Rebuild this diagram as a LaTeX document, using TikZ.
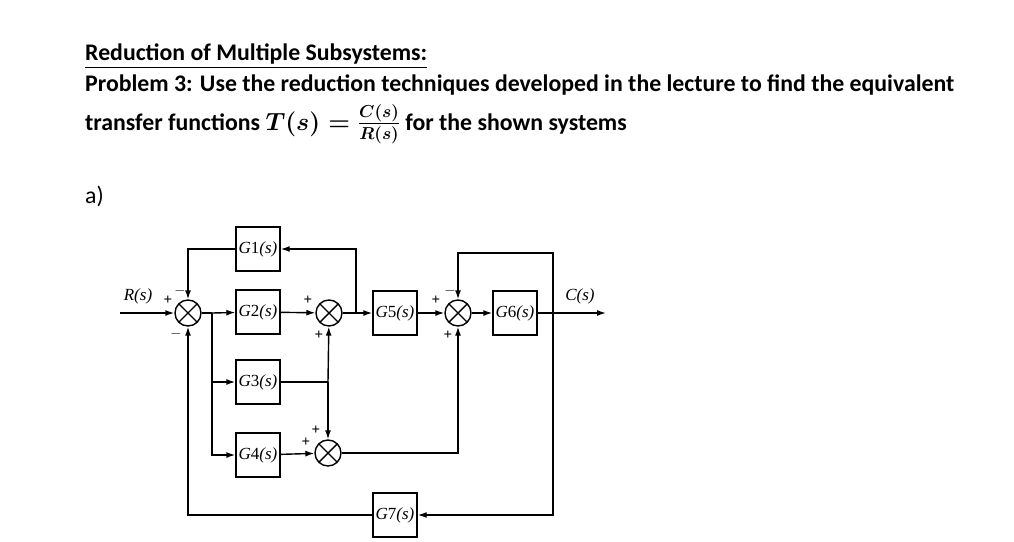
\documentclass[tikz,border=0pt]{standalone}
\usepackage{amsmath}
\usepackage{fontspec}
\setmainfont{Carlito}
\newfontfamily\tms{Liberation Serif}
\usetikzlibrary{arrows.meta}
\begin{document}
\begin{tikzpicture}[x=1pt,y=-1pt,
 blk/.style={draw,line width=1.4pt,minimum width=44pt,minimum height=44pt,inner sep=0pt,font=\tms\itshape\fontsize{17}{17}\selectfont},
 sum/.style={draw,circle,line width=1.4pt,minimum size=26pt,inner sep=0pt,path picture={\draw[line width=1.4pt] (path picture bounding box.north west)--(path picture bounding box.south east) (path picture bounding box.north east)--(path picture bounding box.south west);}},
 w/.style={line width=1.4pt},
 a/.style={w,-{Latex[length=9pt,width=6pt]}},
 sg/.style={font=\tms\bfseries\fontsize{15}{15}\selectfont,inner sep=0pt}]
\useasboundingbox (0,0) rectangle (1014,541);
\node[anchor=base west,font=\bfseries\fontsize{23.8}{23.8}\selectfont,inner sep=0pt] at (85,60) {\underline{Reduction of Multiple Subsystems:}};
\node[anchor=base west,font=\bfseries\fontsize{23.8}{23.8}\selectfont,inner sep=0pt] at (85,91) {Problem 3: Use the reduction techniques developed in the lecture to find the equivalent};
\node[anchor=base west,font=\bfseries\fontsize{23.8}{23.8}\selectfont,inner sep=0pt] at (85,130) {transfer functions $\boldsymbol{T(s)=\frac{C(s)}{R(s)}}$ for the shown systems};
\node[anchor=base west,font=\fontsize{23.8}{23.8}\selectfont,inner sep=0pt] at (85,203) {a)};
\node[sum] (s1) at (188,313) {};
\node[sum] (s2) at (329,313) {};
\node[sum] (s3) at (458,313) {};
\node[sum] (s4) at (328,453) {};
\node[blk] (g1) at (258,249) {G\textup{1}(s)};
\node[blk] (g2) at (258,312) {G\textup{2}(s)};
\node[blk] (g3) at (258,382) {G\textup{3}(s)};
\node[blk] (g4) at (258,455) {G\textup{4}(s)};
\node[blk] (g5) at (395,313) {G\textup{5}(s)};
\node[blk] (g6) at (515,313) {G\textup{6}(s)};
\node[blk] (g7) at (395,515) {G\textup{7}(s)};
\coordinate (in) at (120,313);
\coordinate (out) at (606,313);
\coordinate (b) at (212,313);
\coordinate (p1) at (356,313);
\coordinate (p2) at (553,313);
\coordinate (j3) at (328,382);
\node[font=\tms\itshape\fontsize{17}{17}\selectfont,anchor=south] at (138,308) {R(s)};
\node[font=\tms\itshape\fontsize{17}{17}\selectfont,anchor=south] at (580,308) {C(s)};
\draw[a] (in)--(s1);
\draw[w] (s1)--(b);
\draw[a] (b)--(g2);
\draw[a] (b)|-(g3);
\draw[a] (b)|-(g4);
\draw[a] (g2)--(s2);
\draw[w] (s2)--(p1);
\draw[a] (p1)--(g5);
\draw[a] (p1)|-(g1);
\draw[a] (g1.west)-|(s1);
\draw[a] (g5)--(s3);
\draw[a] (s3)--(g6);
\draw[a] (g6)--(out);
\draw[a] (p2)|-(g7);
\draw[a] (p2)--(553,253)-|(s3);
\draw[a] (g7)-|(s1);
\draw[w] (g3)--(j3);
\draw[a] (j3)--(s2);
\draw[a] (j3)--(s4);
\draw[a] (g4)--(s4);
\draw[a] (s4)-|(s3);
\node[sg] at (168,300) {+};
\node[sg] at (180,291) {$-$};
\node[sg] at (176,334) {$-$};
\node[sg] at (308,300) {+};
\node[sg] at (319,335) {+};
\node[sg] at (436,300) {+};
\node[sg] at (450,291) {$-$};
\node[sg] at (448,335) {+};
\node[sg] at (316,430) {+};
\node[sg] at (306,442) {+};
\end{tikzpicture}
\end{document}
